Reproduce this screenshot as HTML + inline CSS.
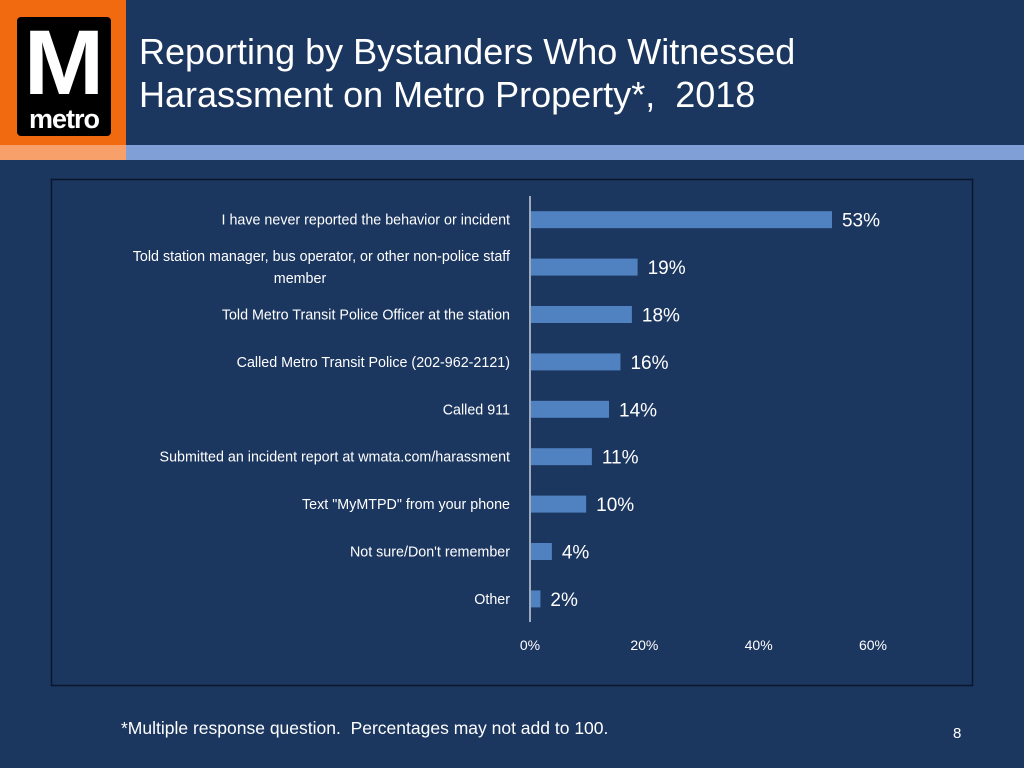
<!DOCTYPE html>
<html><head><meta charset="utf-8"><style>
body{margin:0;width:1024px;height:768px;background:#1b365f;position:relative;overflow:hidden;font-family:"Liberation Sans",sans-serif;}
</style></head><body>
<div style="position:absolute;left:0;top:0;width:126px;height:145px;background:#f26a10"></div>
<div style="position:absolute;left:0;top:145px;width:126px;height:15px;background:#f8a06a"></div>
<div style="position:absolute;left:126px;top:145px;width:898px;height:15px;background:#7f9fd6"></div>
<div style="position:absolute;left:17px;top:17px;width:94px;height:119px;background:#000;border-radius:4px;color:#fff;text-align:center">
  <div style="font:bold 92px/84px 'Liberation Sans',sans-serif;margin-top:4px;transform:scaleX(1.05)">M</div>
  <div style="font:bold 27px/28px 'Liberation Sans',sans-serif;letter-spacing:-1px">metro</div>
</div>
<div style="position:absolute;left:139px;top:30px;color:#fff;font:36px/43px 'Liberation Sans',sans-serif">Reporting by Bystanders Who Witnessed<br>Harassment on Metro Property*,&nbsp; 2018</div>
<svg id="chart" style="position:absolute;left:0;top:0" width="1024" height="768">
<rect x="51.5" y="179.5" width="921" height="506" fill="none" stroke="#0b1628" stroke-width="1.5"/>
</svg>
<div style="position:absolute;left:121px;top:718px;color:#fff;font:17.5px 'Liberation Sans',sans-serif">*Multiple response question.&nbsp; Percentages may not add to 100.</div>
<div style="position:absolute;left:953px;top:725px;color:#fff;font:15px 'Liberation Sans',sans-serif">8</div>
<script>
const categories=["I have never reported the behavior or incident","Told station manager, bus operator, or other non-police staff|member","Told Metro Transit Police Officer at the station","Called Metro Transit Police (202-962-2121)","Called 911","Submitted an incident report at wmata.com/harassment","Text \"MyMTPD\" from your phone","Not sure/Don't remember","Other"];
const values=[53,19,18,16,14,11,10,4,2];
const ticks=[0,20,40,60];
const svg=document.getElementById('chart');
const NS='http://www.w3.org/2000/svg';
const x0=530,pxPer=343/60,yTop=196,rowH=47.4;
const xs=v=>x0+v*pxPer;
const yc=i=>yTop+rowH*(i+0.5);
function mk(t,a){const e=document.createElementNS(NS,t);for(const k in a)e.setAttribute(k,a[k]);svg.appendChild(e);return e;}
values.forEach((v,i)=>{
  const b=mk('rect',{x:x0+1,y:yc(i)-8.5,width:xs(v)-x0-2,height:17,fill:'#5081c0'});
  
  
  const t=mk('text',{x:xs(v)+9,y:yc(i)+7,fill:'#fff','font-size':19,'font-family':'Liberation Sans, sans-serif'});
  t.textContent=v+'%';
  
  
  const lines=categories[i].split('|');
  lines.forEach((ln,j)=>{
    const l=mk('text',{x:510,y:yc(i)+5+(j-(lines.length-1)/2)*22,fill:'#fff','font-size':14.3,'text-anchor':lines.length>1&&j==1?'middle':'end','font-family':'Liberation Sans, sans-serif'});
    if(lines.length>1&&j==1)l.setAttribute('x',300);
    l.textContent=ln;
    
    
  });
});
const ax=mk('line',{x1:x0,x2:x0,y1:yTop,y2:622,stroke:'#c8d0dc','stroke-width':1.5});


ticks.forEach(t=>{
  const e=mk('text',{x:xs(t),y:650,fill:'#fff','font-size':14,'text-anchor':'middle','font-family':'Liberation Sans, sans-serif'});
  e.textContent=t+'%';
  
  
});
</script>
</body></html>
